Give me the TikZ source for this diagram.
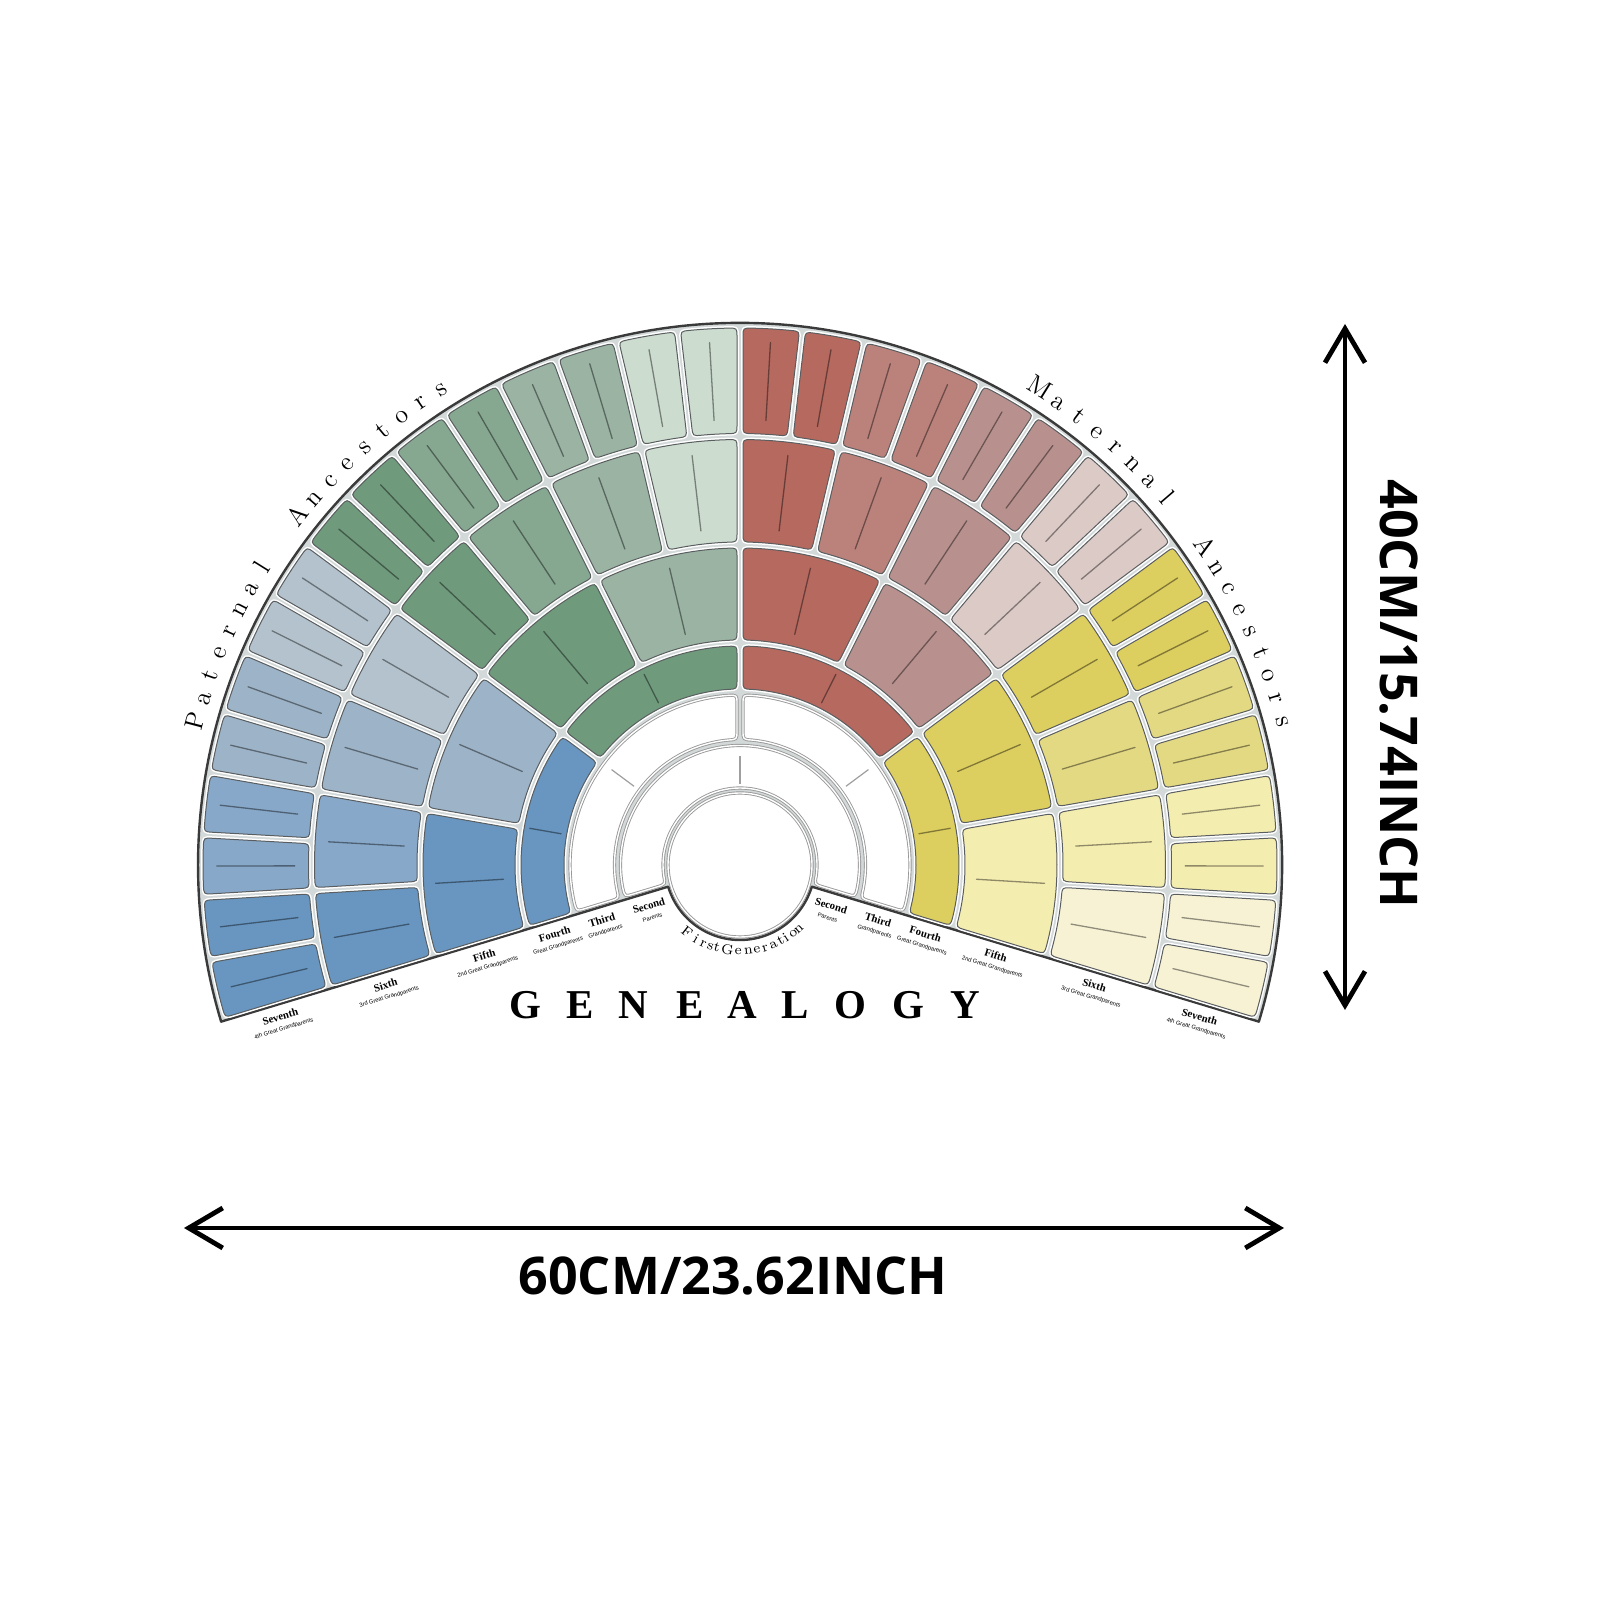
\documentclass[tikz,border=0pt]{standalone}
\usepackage{fontspec}
\newfontfamily\lserif{Liberation Serif}
\newfontfamily\lsans{Liberation Sans}
\newfontfamily\osans{Open Sans}
\usetikzlibrary{calc,arrows.meta}
\definecolor{b0}{HTML}{6896C0}
\definecolor{b1}{HTML}{87A8C8}
\definecolor{b2}{HTML}{9DB3C7}
\definecolor{b3}{HTML}{B3C2CD}
\definecolor{g0}{HTML}{6F9A7C}
\definecolor{g1}{HTML}{86A891}
\definecolor{g2}{HTML}{9AB3A2}
\definecolor{g3}{HTML}{CCDCCF}
\definecolor{r0}{HTML}{B5695F}
\definecolor{r1}{HTML}{BB827C}
\definecolor{r2}{HTML}{B8918E}
\definecolor{r3}{HTML}{DCCAC6}
\definecolor{y0}{HTML}{DCCE5F}
\definecolor{y1}{HTML}{E4D983}
\definecolor{y2}{HTML}{F4EDB0}
\definecolor{y3}{HTML}{F7F2D4}
\definecolor{fangap}{HTML}{D3D8D8}
\definecolor{fanborder}{HTML}{3A3A3A}
\definecolor{cellline}{HTML}{5A5E60}
\def\hgap{3}
\def\crad{9}
\def\Aa{196.8}
\def\Sp{213.6}
\tikzset{
 cellst/.style={draw=cellline, line width=0.5pt, line join=round, preaction={draw=white, line width=2pt, line join=round}},
 whitest/.style={draw=gray!80, line width=0.45pt, double=white, double distance=0.7pt, line join=round},
 nameline/.style={line width=0.65pt, line cap=round},
 arcl/.style={font=\fontsize{13}{13}\selectfont, inner sep=0pt, anchor=base},
 fgl/.style={font=\fontsize{7}{7}\selectfont, inner sep=0pt, anchor=base},
 genw/.style={font=\lserif\bfseries\fontsize{5.4}{6}\selectfont, inner sep=0pt},
 gens/.style={font=\lsans\fontsize{2.9}{3}\selectfont, inner sep=0pt},
 titlel/.style={font=\lserif\bfseries\fontsize{20.5}{20.5}\selectfont, inner sep=0pt, anchor=base},
 dimarrow/.style={line width=2.4pt, {Straight Barb[length=17pt,width=20pt]}-{Straight Barb[length=17pt,width=20pt]}},
 dimlabel/.style={font=\osans\bfseries\fontsize{26}{26}\selectfont, inner sep=0pt},
}
% #1 style, #2 low angle, #3 high angle, #4 inner radius, #5 outer radius, #6 fill
\newcommand\fancell[6][cellst]{%
 \pgfmathsetmacro\rI{#4}\pgfmathsetmacro\rO{#5}%
 \pgfmathsetmacro\dA{(\hgap+\crad)/\rO*180/pi}%
 \pgfmathsetmacro\dB{(\hgap+\crad)/\rI*180/pi}%
 \pgfmathsetmacro\oS{#3-\dA}\pgfmathsetmacro\oE{#2+\dA}%
 \pgfmathsetmacro\iS{#2+\dB}\pgfmathsetmacro\iE{#3-\dB}%
 \pgfmathsetmacro\rOm{\rO-\crad}\pgfmathsetmacro\rIm{\rI+\crad}%
 \pgfmathsetmacro\pL{#2+90}\pgfmathsetmacro\pH{#3-90}%
 \path[#1,fill=#6] ($(C)+(\oS:\rO)$) arc[start angle=\oS,end angle=\oE,radius=\rO]
  .. controls ($(C)+(#2:\rO)+(\pL:\hgap)$) .. ($(C)+(#2:\rOm)+(\pL:\hgap)$)
  -- ($(C)+(#2:\rIm)+(\pL:\hgap)$)
  .. controls ($(C)+(#2:\rI)+(\pL:\hgap)$) .. ($(C)+(\iS:\rI)$)
  arc[start angle=\iS,end angle=\iE,radius=\rI]
  .. controls ($(C)+(#3:\rI)+(\pH:\hgap)$) .. ($(C)+(#3:\rIm)+(\pH:\hgap)$)
  -- ($(C)+(#3:\rOm)+(\pH:\hgap)$)
  .. controls ($(C)+(#3:\rO)+(\pH:\hgap)$) .. ($(C)+(\oS:\rO)$) -- cycle;
}
% #1 number of cells, #2 inner boundary, #3 outer boundary, #4 colours
\newcommand\fanring[4]{%
 \foreach \cc [count=\k from 0] in {#4} {%
   \pgfmathsetmacro\ahi{\Aa-\k*\Sp/#1}%
   \pgfmathsetmacro\alo{\Aa-(\k+1)*\Sp/#1}%
   \pgfmathsetmacro\amid{(\ahi+\alo)/2}%
   \pgfmathsetmacro\rin{#2+\hgap}%
   \pgfmathsetmacro\rout{#3-\hgap}%
   \fancell{\alo}{\ahi}{\rin}{\rout}{\cc}%
   \pgfmathsetmacro\la{\rin+0.13*(\rout-\rin)}%
   \pgfmathsetmacro\lb{\rout-0.13*(\rout-\rin)}%
   \draw[nameline, draw=\cc!58!black] ($(C)+(\amid:\la)$) -- ($(C)+(\amid:\lb)$);
 }}
\begin{document}
\begin{tikzpicture}[x=0.5pt,y=0.5pt]
\useasboundingbox (0,0) rectangle (1600,1600);
\fill[white] (0,0) rectangle (1600,1600);
\coordinate (C) at (740,735);
% fan background
\path[fill=fangap, draw=fanborder, line width=1.2pt, line join=round]
 ($(C)+(196.8:542)$) -- ($(C)+(196.8:75)$) arc[start angle=196.8, end angle=343.2, radius=75]
 -- ($(C)+(-16.8:542)$) arc[start angle=-16.8, end angle=196.8, radius=542] -- cycle;
% first generation circle
\path[fill=white, whitest] (C) circle[radius=72];
% second and third generation (white)
\fancell[whitest]{-16.8}{196.8}{77}{119.5}{white}
\draw[gray!75, line width=0.6pt] ($(C)+(90:81)$) -- ($(C)+(90:109)$);
\fancell[whitest]{90}{196.8}{125.5}{170}{white}
\fancell[whitest]{-16.8}{90}{125.5}{170}{white}
\draw[gray!75, line width=0.6pt] ($(C)+(143.4:132)$) -- ($(C)+(143.4:160)$);
\draw[gray!75, line width=0.6pt] ($(C)+(36.6:132)$) -- ($(C)+(36.6:160)$);
% coloured generations
\fanring{4}{173}{222}{b0,g0,r0,y0}
\fanring{8}{222}{320}{b0,b2,g0,g2,r0,r2,y0,y2}
\fanring{16}{320}{428.5}{b0,b1,b2,b3,g0,g1,g2,g3,r0,r1,r2,r3,y0,y1,y2,y3}
\fanring{32}{428.5}{540}{b0,b0,b1,b1,b2,b2,b3,b3,g0,g0,g1,g1,g2,g2,g3,g3,r0,r0,r1,r1,r2,r2,r3,r3,y0,y0,y1,y1,y2,y2,y3,y3}
% arc titles
\foreach \ch [count=\i from 0] in {P,a,t,e,r,n,a,l} {
 \pgfmathsetmacro\an{165.2-\i*2.45}
 \node[arcl, rotate=\an-90] (pa\i) at ($(C)+(\an:555)$) {\ch};}
\foreach \ch [count=\i from 0] in {A,n,c,e,s,t,o,r,s} {
 \pgfmathsetmacro\an{141.75-\i*2.45}
 \node[arcl, rotate=\an-90] (pb\i) at ($(C)+(\an:555)$) {\ch};}
\foreach \ch [count=\i from 0] in {M,a,t,e,r,n,a,l} {
 \pgfmathsetmacro\an{57.85-\i*2.45}
 \node[arcl, rotate=\an-90] (ma\i) at ($(C)+(\an:555)$) {\ch};}
\foreach \ch [count=\i from 0] in {A,n,c,e,s,t,o,r,s} {
 \pgfmathsetmacro\an{34.4-\i*2.45}
 \node[arcl, rotate=\an-90] (mb\i) at ($(C)+(\an:555)$) {\ch};}
\foreach \ch/\an [count=\i] in {F/231.7,i/239.2,r/244.8,s/250.1,t/254.4,G/261.6,e/268.9,n/275.6,e/281.2,r/286.9,a/292.8,t/298.2,i/302.3,o/307.8,n/312.7} {
 \node[fgl, rotate=\an+90] (fg\i) at ($(C)+(\an:90)$) {\ch};}
% generation labels
\foreach \t/\w/\s [count=\i] in {99/Second/Parents, 148/Third/Grandparents, 197.5/Fourth/Great Grandparents, 271/Fifth/2nd Great Grandparents, 374/Sixth/3rd Great Grandparents, 484/Seventh/4th Great Grandparents} {
 \node[genw, rotate=16.8] (lw\i) at ($(C)+(196.8:\t)+(286.8:12.5)$) {\w};
 \node[gens, rotate=16.8] (ls\i) at ($(C)+(196.8:\t)+(286.8:25)$) {\s};
 \node[genw, rotate=-16.8] (rw\i) at ($(C)+(-16.8:\t)+(-106.8:12.5)$) {\w};
 \node[gens, rotate=-16.8] (rs\i) at ($(C)+(-16.8:\t)+(-106.8:25)$) {\s};
}
% title
\foreach \ch/\xx [count=\i] in {G/525.5,E/580,N/633,E/690,A/742,L/795,O/850,G/908,Y/965} {
 \node[titlel] (ti\i) at (\xx,581) {\ch};}
% dimensions
\coordinate (hl) at (184,372);
\coordinate (hr) at (1284,372);
\draw[dimarrow] (hl) -- (hr);
\node[dimlabel] (hlab) at (733,324) {60CM/23.62INCH};
\coordinate (vt) at (1345,1276);
\coordinate (vb) at (1345,590);
\draw[dimarrow] (vt) -- (vb);
\node[dimlabel, rotate=-90] (vlab) at (1399,906) {40CM/15.74INCH};
\end{tikzpicture}
\end{document}
